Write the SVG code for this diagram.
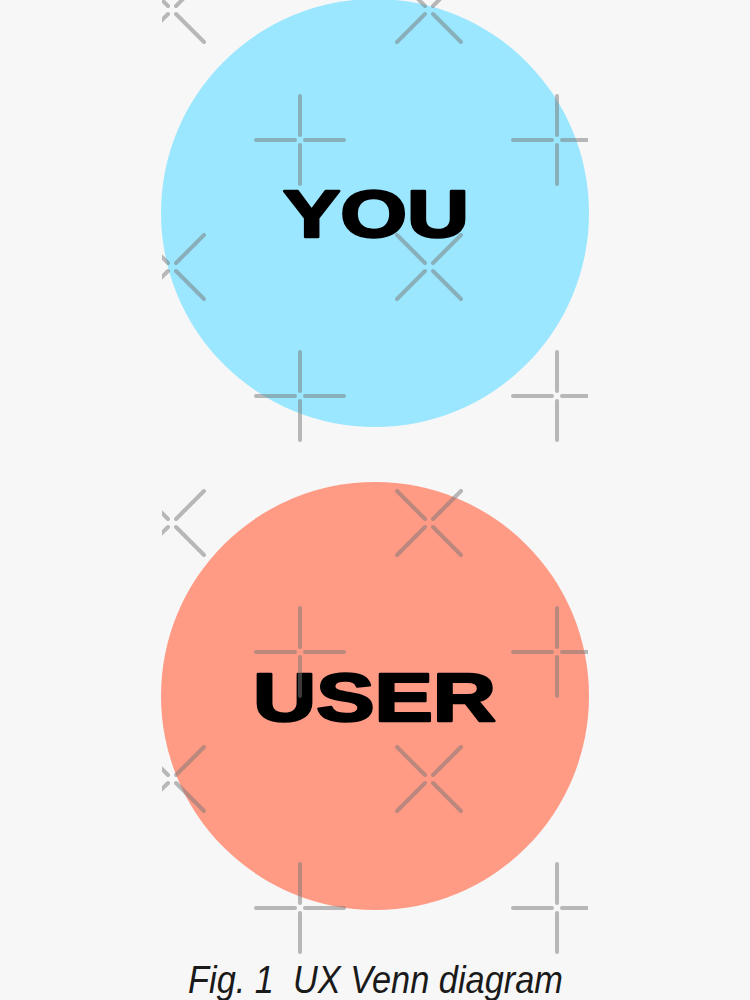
<svg xmlns="http://www.w3.org/2000/svg" xmlns:xlink="http://www.w3.org/1999/xlink" width="750" height="1000" viewBox="0 0 750 1000">
  <style>
    .label { font-family: "Liberation Sans", Arial, sans-serif; font-weight: bold; fill: #000; stroke: #000; stroke-width: 2.5; stroke-linejoin: round; }
    .caption { font-family: "Liberation Sans", Arial, sans-serif; font-style: italic; fill: #1a1a1a; white-space: pre; }
    .wm { stroke: #777; stroke-width: 4; stroke-linecap: round; fill: none; }
  </style>
  <defs>
    <g id="plus" class="wm">
      <line x1="-44" y1="0" x2="-5" y2="0"/>
      <line x1="5" y1="0" x2="44" y2="0"/>
      <line x1="0" y1="-44" x2="0" y2="-5"/>
      <line x1="0" y1="5" x2="0" y2="44"/>
    </g>
    <g id="cross" class="wm">
      <line x1="-32" y1="-32" x2="-4" y2="-4"/>
      <line x1="4" y1="4" x2="32" y2="32"/>
      <line x1="32" y1="-32" x2="4" y2="-4"/>
      <line x1="-4" y1="4" x2="-32" y2="32"/>
    </g>
    <clipPath id="wmclip">
      <rect x="162" y="0" width="426" height="1000"/>
    </clipPath>
  </defs>
  <rect width="750" height="1000" fill="#f7f7f7"/>
  <g id="you">
    <circle cx="375" cy="213" r="214" fill="#9be7ff"/>
    <text class="label" x="376" y="237" font-size="66" text-anchor="middle" textLength="186" lengthAdjust="spacingAndGlyphs">YOU</text>
  </g>
  <g id="user">
    <circle cx="375" cy="696" r="214" fill="#ff9a85"/>
    <text class="label" x="374.5" y="721" font-size="68" text-anchor="middle" textLength="243" lengthAdjust="spacingAndGlyphs">USER</text>
  </g>
  <g id="connectors"/>
  <g id="caption">
    <text class="caption" x="188" y="993" font-size="39" textLength="375" lengthAdjust="spacingAndGlyphs">Fig. 1  UX Venn diagram</text>
  </g>
  <g id="watermark" clip-path="url(#wmclip)" opacity="0.5">
    <use xlink:href="#cross" x="172" y="10"/>
    <use xlink:href="#cross" x="429" y="10"/>
    <use xlink:href="#cross" x="172" y="267"/>
    <use xlink:href="#cross" x="429" y="267"/>
    <use xlink:href="#cross" x="172" y="523"/>
    <use xlink:href="#cross" x="429" y="523"/>
    <use xlink:href="#cross" x="172" y="779"/>
    <use xlink:href="#cross" x="429" y="779"/>
    <use xlink:href="#plus" x="300" y="140"/>
    <use xlink:href="#plus" x="557" y="140"/>
    <use xlink:href="#plus" x="300" y="396"/>
    <use xlink:href="#plus" x="557" y="396"/>
    <use xlink:href="#plus" x="300" y="652"/>
    <use xlink:href="#plus" x="557" y="652"/>
    <use xlink:href="#plus" x="300" y="908"/>
    <use xlink:href="#plus" x="557" y="908"/>
  </g>
</svg>
